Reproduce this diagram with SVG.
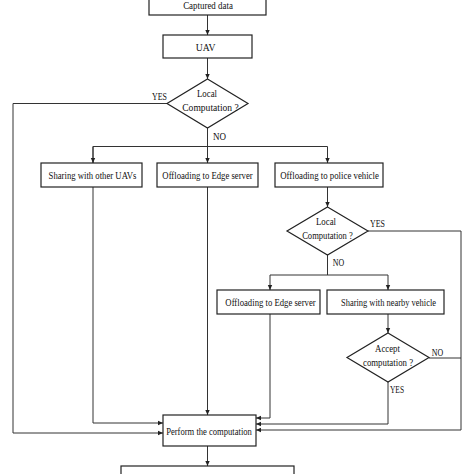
<svg xmlns="http://www.w3.org/2000/svg" width="474" height="474" viewBox="0 0 474 474">
<style>
.box{fill:#fff;stroke:#222;stroke-width:1.2}
.t{font-family:"Liberation Serif","Times New Roman",serif;font-size:11px;fill:#111;text-anchor:middle}
.c{fill:none;stroke:#333;stroke-width:1}
</style>
<defs>
<marker id="a" markerUnits="userSpaceOnUse" markerWidth="6" markerHeight="6" refX="5" refY="3" orient="auto">
<path d="M0,0.8 L5,3 L0,5.2 Z" fill="#222"/>
</marker>
</defs>
<rect width="474" height="474" fill="#fff"/>
<g id="connectors">
<path class="c" d="M207.5,15 V35" marker-end="url(#a)"/>
<path class="c" d="M207.5,58 V79" marker-end="url(#a)"/>
<path class="c" d="M207.5,128 V146.5"/>
<path class="c" d="M93,163 V146.5 H327.5 V163" marker-end="url(#a)"/>
<path class="c" d="M93,146.5 V163" marker-end="url(#a)"/>
<path class="c" d="M207.5,146.5 V163" marker-end="url(#a)"/>
<path class="c" d="M327.5,187 V207" marker-end="url(#a)"/>
<path class="c" d="M327.5,255 V275"/>
<path class="c" d="M270,275 H388"/>
<path class="c" d="M270,275 V290" marker-end="url(#a)"/>
<path class="c" d="M388,275 V290" marker-end="url(#a)"/>
<path class="c" d="M388,314 V333" marker-end="url(#a)"/>
<path class="c" d="M167,103.5 H13 V433 H163" marker-end="url(#a)"/>
<path class="c" d="M93,187 V423 H163" marker-end="url(#a)"/>
<path class="c" d="M207.5,187 V415" marker-end="url(#a)"/>
<path class="c" d="M270,314 V418 H256" marker-end="url(#a)"/>
<path class="c" d="M388,382 V424 H256" marker-end="url(#a)"/>
<path class="c" d="M368,231 H461 V430 H256" marker-end="url(#a)"/>
<path class="c" d="M429,358 H461"/>
<path class="c" d="M207.5,446 V466" marker-end="url(#a)"/>
</g>
<g id="captured">
<rect class="box" x="149" y="-12" width="117" height="27"/>
<text class="t" transform="translate(208,9) scale(0.81,1)">Captured data</text>
</g>
<g id="uav">
<rect class="box" x="163" y="35" width="89" height="23"/>
<text class="t" transform="translate(205.5,50.5) scale(0.88,1)">UAV</text>
</g>
<g id="local1">
<polygon class="box" points="207.5,79 248,103.5 207.5,128 167,103.5"/>
<text class="t" transform="translate(207,97) scale(0.8,1)">Local</text>
<text class="t" transform="translate(210.5,111) scale(0.87,1)">Computation ?</text>
<text class="t" transform="translate(159.5,100) scale(0.72,1)">YES</text>
<text class="t" transform="translate(219.5,139.5) scale(0.82,1)">NO</text>
</g>
<g id="share-uavs">
<rect class="box" x="41" y="163" width="101" height="24"/>
<text class="t" transform="translate(92.5,179) scale(0.79,1)">Sharing with other UAVs</text>
</g>
<g id="edge1">
<rect class="box" x="157" y="163" width="101" height="24"/>
<text class="t" transform="translate(207.5,179) scale(0.79,1)">Offloading to Edge server</text>
</g>
<g id="police">
<rect class="box" x="275" y="163" width="108" height="24"/>
<text class="t" transform="translate(329.5,179) scale(0.8,1)">Offloading to police vehicle</text>
</g>
<g id="local2">
<polygon class="box" points="327.5,207 368,231 327.5,255 287,231"/>
<text class="t" transform="translate(326,225) scale(0.8,1)">Local</text>
<text class="t" transform="translate(327.5,239) scale(0.78,1)">Computation ?</text>
<text class="t" transform="translate(377.5,227) scale(0.72,1)">YES</text>
<text class="t" transform="translate(338.5,266) scale(0.72,1)">NO</text>
</g>
<g id="edge2">
<rect class="box" x="217" y="290" width="103" height="24"/>
<text class="t" transform="translate(270.5,306) scale(0.79,1)">Offloading to Edge server</text>
</g>
<g id="nearby">
<rect class="box" x="327" y="290" width="117" height="24"/>
<text class="t" transform="translate(388.5,306) scale(0.77,1)">Sharing with nearby vehicle</text>
</g>
<g id="accept">
<polygon class="box" points="388,333 429,357.5 388,382 347,357.5"/>
<text class="t" transform="translate(387.5,352) scale(0.8,1)">Accept</text>
<text class="t" transform="translate(388,366) scale(0.8,1)">computation ?</text>
<text class="t" transform="translate(437.5,356) scale(0.72,1)">NO</text>
<text class="t" transform="translate(397,393) scale(0.68,1)">YES</text>
</g>
<g id="perform">
<rect class="box" x="163" y="415" width="93" height="31"/>
<text class="t" transform="translate(209,434.5) scale(0.78,1)">Perform the computation</text>
</g>
<g id="final">
<rect class="box" x="121" y="466" width="173" height="20"/>
</g>
</svg>
